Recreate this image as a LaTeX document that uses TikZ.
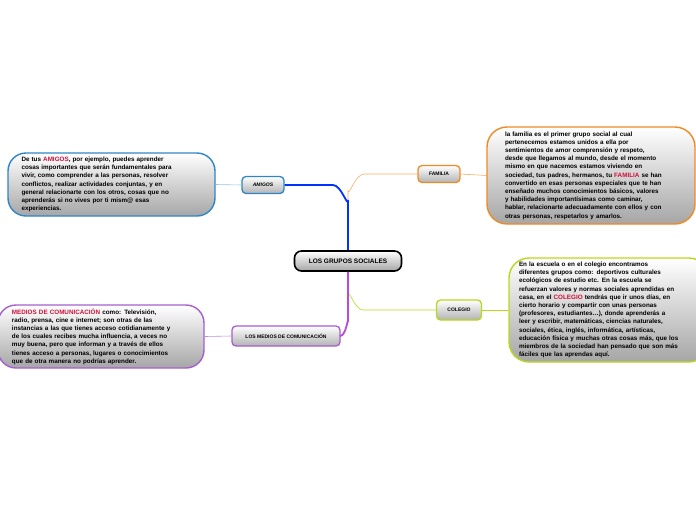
\documentclass[tikz,border=0pt]{standalone}
\usepackage{fontspec}
\setmainfont{Liberation Sans}
\begin{document}
\begin{tikzpicture}[x=1pt,y=-1pt,
  box/.style={rounded corners=#1, top color=white, bottom color=black!35, line width=1.4pt, inner sep=0pt, font=\fontsize{6.3}{8.2}\selectfont\bfseries, align=left},
  lab/.style={rounded corners=4pt, top color=white, bottom color=black!30, line width=1.3pt, font=\fontsize{5}{6}\selectfont\bfseries, minimum height=17pt},
  conn/.style={line width=#1}]
\useasboundingbox (0,0) rectangle (696,520);
\definecolor{cb}{HTML}{2E86C8}\definecolor{co}{HTML}{F08A24}\definecolor{cg}{HTML}{B8D91A}\definecolor{cp}{HTML}{A45FD0}\definecolor{rd}{HTML}{D0103A}
\node[box=7pt, draw=black, line width=1.6pt, minimum width=107pt, minimum height=20pt, font=\fontsize{6.5}{8}\selectfont\bfseries] (c) at (348,261) {LOS GRUPOS SOCIALES};
\node[lab, draw=cb, minimum width=42pt] (am) at (263,185) {\itshape AMIGOS};
\node[lab, draw=co, minimum width=42pt] (fa) at (439,174) {FAMILIA};
\node[lab, draw=cg, minimum width=45pt, minimum height=20pt] (co) at (459,310) {COLEGIO};
\node[lab, draw=cp, minimum width=108pt, minimum height=20pt] (me) at (286,336) {LOS MEDIOS DE COMUNICACIÓN};
\node[box=18pt, draw=cb, minimum width=207pt, minimum height=63pt, text width=180pt] (amt) at (111.5,184.5) {De tus {\color{rd}AMIGOS}, por ejemplo, puedes aprender\\cosas importantes que serán fundamentales para\\vivir, como comprender a las personas, resolver\\conflictos, realizar actividades conjuntas, y en\\general relacionarte con los otros, cosas que no\\aprenderás si no vives por ti mism@ esas\\experiencias.};
\node[box=20pt, draw=co, minimum width=208pt, minimum height=97pt, text width=172pt] (fat) at (591,175.5) {la familia es el primer grupo social al cual\\pertenecemos estamos unidos a ella por\\sentimientos de amor comprensión y respeto,\\desde que llegamos al mundo, desde el momento\\mismo en que nacemos estamos viviendo en\\sociedad, tus padres, hermanos, tu {\color{rd}FAMILIA} se han\\convertido en esas personas especiales que te han\\enseñado muchos conocimientos básicos, valores\\y habilidades importantísimas como caminar,\\hablar, relacionarte adecuadamente con ellos y con\\otras personas, respetarlos y amarlos.};
\node[box=20pt, draw=cg, minimum width=200pt, minimum height=104pt, text width=180pt] (cot) at (609,310) {En la escuela o en el colegio encontramos\\diferentes grupos como: deportivos culturales\\ecológicos de estudio etc. En la escuela se\\refuerzan valores y normas sociales aprendidas en\\casa, en el {\color{rd}COLEGIO} tendrás que ir unos días, en\\cierto horario y compartir con unas personas\\(profesores, estudiantes…), donde aprenderás a\\leer y escribir, matemáticas, ciencias naturales,\\sociales, ética, inglés, informática, artísticas,\\educación física y muchas otras cosas más, que los\\miembros de la sociedad han pensado que son más\\fáciles que las aprendas aquí.};
\node[box=18pt, draw=cp, minimum width=206pt, minimum height=63pt, text width=178pt] (met) at (101,336.5) {{\color{rd}MEDIOS DE COMUNICACIÓN} como: Televisión,\\radio, prensa, cine e internet; son otras de las\\instancias a las que tienes acceso cotidianamente y\\de los cuales recibes mucha influencia, a veces no\\muy buena, pero que informan y a través de ellos\\tienes acceso a personas, lugares o conocimientos\\que de otra manera no podrías aprender.};
\begin{scope}[on background layer/.style={}]
\draw[conn=1.8pt, blue!80!cyan] (c.north) -- (348,200) to[out=-90,in=0] (333,185) -- (am.east);
\draw[conn=0.6pt, co!70] (348,200) -- (348,190) to[out=-90,in=180] (364,174) -- (fa.west);
\draw[conn=0.6pt, cg] (c.south) -- (348,295) to[out=90,in=180] (363,310) -- (co.west);
\draw[conn=1.8pt, cp!80!magenta] (c.south) -- (348,322) to[out=90,in=0] (340,336);
\draw[conn=0.6pt, cb!50] (am.west) -- (amt.east);
\draw[conn=0.6pt, co!70] (fa.east) -- (fat.west);
\draw[conn=0.6pt, cg] (co.east) -- (cot.west);
\draw[conn=0.6pt, cp!70] (me.west) -- (met.east);
\end{scope}
\end{tikzpicture}
\end{document}
